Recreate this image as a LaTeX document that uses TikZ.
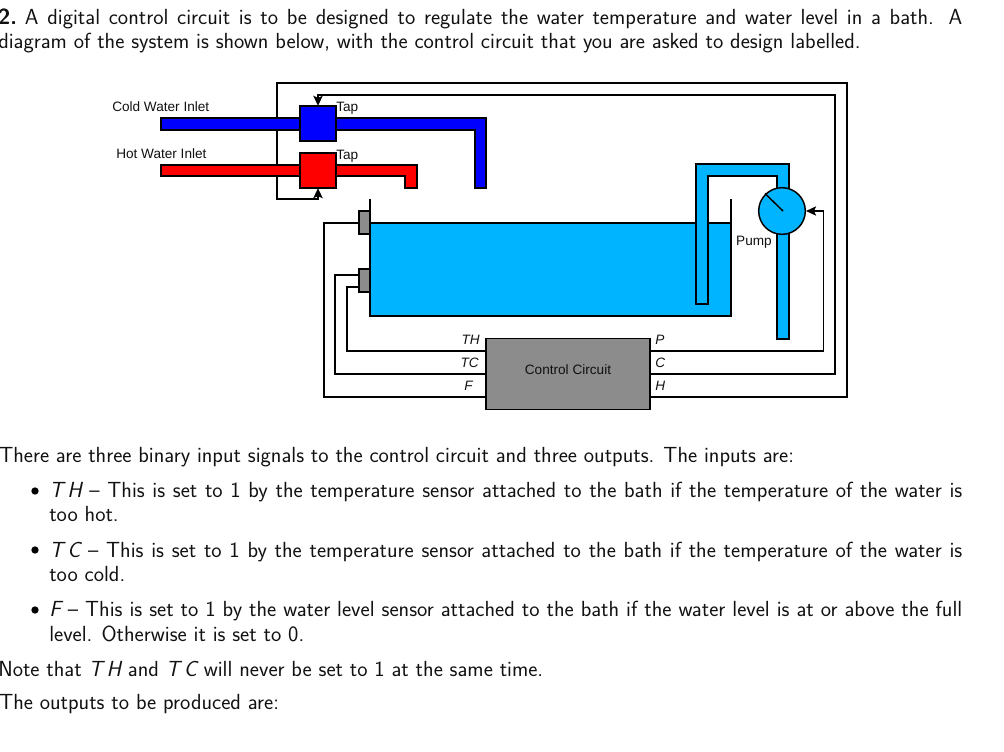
\documentclass[tikz,border=0pt]{standalone}
\usepackage{fontspec}
\newfontfamily\helv{Liberation Sans}
\usetikzlibrary{arrows.meta,calc}
\definecolor{water}{HTML}{00B4FF}
\definecolor{sensorgray}{HTML}{8C8C8C}
\definecolor{cold}{HTML}{0000FF}
\definecolor{hot}{HTML}{FF0000}
\definecolor{ink}{HTML}{111111}
\newlength{\jw}
\newcommand{\jline}[2]{\setlength{\jw}{#1pt}\setlength{\jw}{0.75\jw}\makebox[\jw][s]{#2}}
\newcommand{\vTH}{{\itshape T\kern3pt H}}
\newcommand{\vTC}{{\itshape T\kern3pt C}}
\tikzset{
 x=0.75pt,y=-0.75pt,
 wire/.style={draw=black,line width=1pt,line join=miter},
 arrowwire/.style={wire,-{Stealth[length=7.5pt,width=7pt,inset=1.5pt]}},
 pipe/.style={draw=black,line width=1.1pt,line join=miter},
 solidbox/.style={draw=black,line width=1.1pt,inner sep=0pt,outer sep=0pt},
 lab/.style={font=\helv\fontsize{10.2}{12}\selectfont,text=ink,inner sep=0pt},
 sig/.style={font=\helv\itshape\fontsize{10.2}{12}\selectfont,text=ink,inner sep=0pt},
 body/.style={font=\sffamily\fontsize{16.4}{18}\selectfont,text=ink,inner sep=0pt,anchor=base west},
 bulletdot/.style={fill=black,circle,inner sep=0pt,minimum size=5.5pt},
}
\begin{document}
\begin{tikzpicture}
\useasboundingbox (0,0) rectangle (1004,752);
% body text
\node[body] (l1) at (-2,25) {\jline{964}{\textbf{2.}\kern6pt A digital control circuit is to be designed to regulate the water temperature and water level in a bath. A}};
\node[body] (l2) at (-2,49) {diagram of the system is shown below, with the control circuit that you are asked to design labelled.};
\node[body] (l3) at (-1,462) {There are three binary input signals to the control circuit and three outputs. The inputs are:};
\node[bulletdot] (b1) at (35,491) {};
\node[body] (l4) at (49,497) {\jline{913}{\vTH{} -- This is set to 1 by the temperature sensor attached to the bath if the temperature of the water is}};
\node[body] (l5) at (49,522) {too hot.};
\node[bulletdot] (b2) at (35,550) {};
\node[body] (l6) at (49,557) {\jline{913}{\vTC{} -- This is set to 1 by the temperature sensor attached to the bath if the temperature of the water is}};
\node[body] (l7) at (49,581) {too cold.};
\node[bulletdot] (b3) at (35,610) {};
\node[body] (l8) at (49,616) {\jline{913}{{\itshape F} -- This is set to 1 by the water level sensor attached to the bath if the water level is at or above the full}};
\node[body] (l9) at (49,641) {level. Otherwise it is set to 0.};
\node[body] (l10) at (-2,676) {Note that \vTH{} and \vTC{} will never be set to 1 at the same time.};
\node[body] (l11) at (-1,709) {The outputs to be produced are:};
% bends
\coordinate (hr) at (847,397);
\coordinate (cr) at (835,374);
\coordinate (pr) at (823.5,351);
% devices
\path[fill=water] (370,223) rectangle (731,316);
\draw[pipe] (370,199) -- (370,316) -- (731,316) -- (731,199);
\draw[pipe] (370,223) -- (731,223);
\node[solidbox,minimum width=123pt,minimum height=53pt,fill=sensorgray] (control) at (568,374) {};
\node[lab] (ctrltext) at (568,370) {Control Circuit};
\node[solidbox,minimum width=8.25pt,minimum height=17.25pt,fill=sensorgray] (sensu) at (364.5,222.5) {};
\node[solidbox,minimum width=8.25pt,minimum height=17.25pt,fill=sensorgray] (sensl) at (364.5,280.5) {};
\node[solidbox,minimum width=27pt,minimum height=26.5pt,fill=cold] (tapc) at (318,123.5) {};
\node[solidbox,minimum width=27pt,minimum height=26.5pt,fill=hot] (taph) at (318,170.5) {};
% wires
\coordinate (fo) at (control.west |- 0,397);
\coordinate (co) at (control.west |- 0,374);
\coordinate (to) at (control.west |- 0,351);
\coordinate (ho) at (control.east |- 0,397);
\coordinate (ci) at (control.east |- 0,374);
\coordinate (pi) at (control.east |- 0,351);
\draw[wire] (fo) -- (324,397) -- (324,223) -- (sensu.west |- 0,223);
\draw[wire] (co) -- (335,374) -- (335,275) -- (sensl.west |- 0,275);
\draw[wire] (to) -- (347,351) -- (347,287) -- (sensl.west |- 0,287);
\draw[arrowwire] (ho) -- (hr) -- (847,83) -- (277,83) -- (277,199) -- (318,199) -- (taph.south);
\draw[arrowwire] (ci) -- (cr) -- (835,95) -- (318,95) -- (tapc.north);
% pipes
\draw[pipe,fill=cold] (161,118) -- (tapc.west |- 0,118) -- (tapc.west |- 0,130) -- (161,130) -- cycle;
\draw[pipe,fill=cold] (tapc.east |- 0,118) -- (486,118) -- (486,188) -- (475,188) -- (475,130) -- (tapc.east |- 0,130) -- cycle;
\draw[pipe,fill=hot] (161,165) -- (taph.west |- 0,165) -- (taph.west |- 0,176) -- (161,176) -- cycle;
\draw[pipe,fill=hot] (taph.east |- 0,165) -- (417,165) -- (417,188) -- (405,188) -- (405,176) -- (taph.east |- 0,176) -- cycle;
\draw[pipe,fill=water] (696,304) -- (696,164) -- (789,164) -- (789,339) -- (777,339) -- (777,176) -- (708,176) -- (708,304) -- cycle;
\node[circle,draw=black,line width=1.1pt,fill=water,inner sep=0pt,minimum size=35pt] (pump) at (782,211) {};
\coordinate (needle) at (783,211);
\draw[pipe] (needle) -- (765,193.5);
\draw[arrowwire] (pi) -- (pr) -- (823.5,211) -- (pump.east);
% labels
\node[lab,anchor=west] (cwl) at (112,107) {Cold Water Inlet};
\node[lab,anchor=west] (hwl) at (116,154) {Hot Water Inlet};
\node[lab,anchor=west] (tapl1) at (336,108) {Tap};
\node[lab,anchor=west] (tapl2) at (336,156) {Tap};
\node[lab] (pumpl) at (754,242) {Pump};
\node[sig,anchor=east] (th) at (480,340) {TH};
\node[sig,anchor=east] (tc) at (479,363) {TC};
\node[sig,anchor=east] (f) at (473,386) {F};
\node[sig,anchor=west] (p) at (655,340) {P};
\node[sig,anchor=west] (c) at (655,363) {C};
\node[sig,anchor=west] (h) at (655,386) {H};
\end{tikzpicture}
\end{document}
